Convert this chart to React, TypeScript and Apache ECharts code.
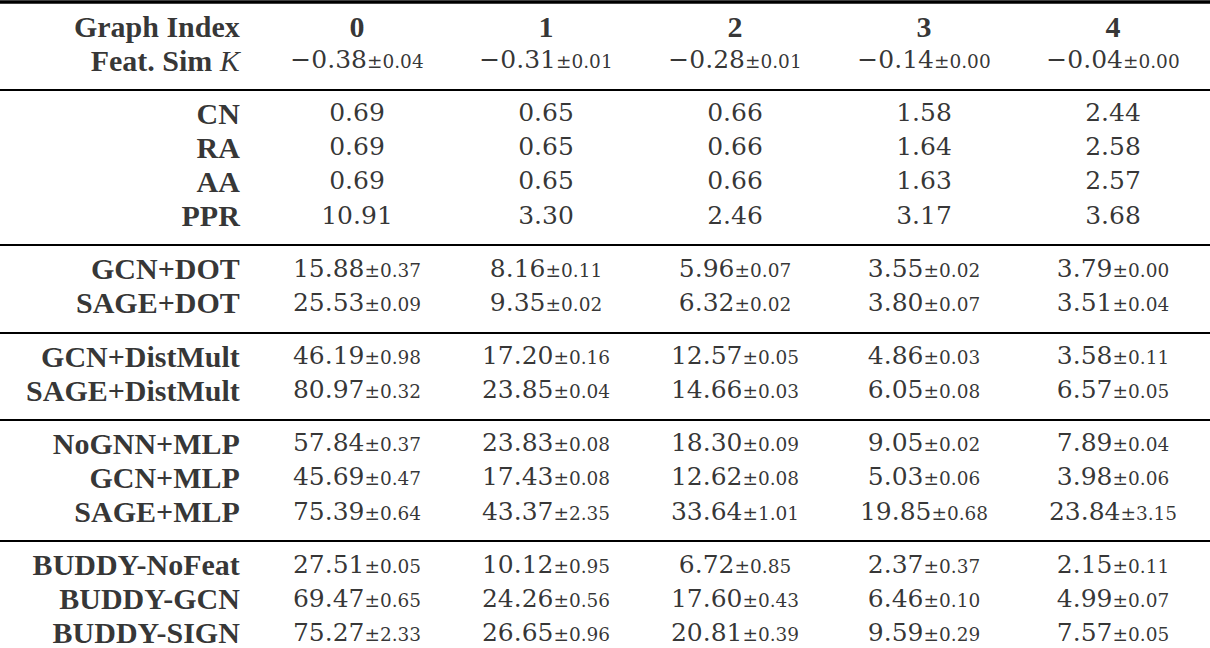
import { useEffect, useRef } from 'react'
import * as echarts from 'echarts'

// header
const graphIndex = ['0', '1', '2', '3', '4']
const featSimMean = [-0.38, -0.31, -0.28, -0.14, -0.04]
const featSimStd = [0.04, 0.01, 0.01, 0.0, 0.0]

// heuristics (no std)
const heuristicNames = ['CN', 'RA', 'AA', 'PPR']
const heuristicValues = [
  [0.69, 0.65, 0.66, 1.58, 2.44],
  [0.69, 0.65, 0.66, 1.64, 2.58],
  [0.69, 0.65, 0.66, 1.63, 2.57],
  [10.91, 3.3, 2.46, 3.17, 3.68],
]

const dotNames = ['GCN+DOT', 'SAGE+DOT']
const dotMean = [
  [15.88, 8.16, 5.96, 3.55, 3.79],
  [25.53, 9.35, 6.32, 3.8, 3.51],
]
const dotStd = [
  [0.37, 0.11, 0.07, 0.02, 0.0],
  [0.09, 0.02, 0.02, 0.07, 0.04],
]

const distMultNames = ['GCN+DistMult', 'SAGE+DistMult']
const distMultMean = [
  [46.19, 17.2, 12.57, 4.86, 3.58],
  [80.97, 23.85, 14.66, 6.05, 6.57],
]
const distMultStd = [
  [0.98, 0.16, 0.05, 0.03, 0.11],
  [0.32, 0.04, 0.03, 0.08, 0.05],
]

const mlpNames = ['NoGNN+MLP', 'GCN+MLP', 'SAGE+MLP']
const mlpMean = [
  [57.84, 23.83, 18.3, 9.05, 7.89],
  [45.69, 17.43, 12.62, 5.03, 3.98],
  [75.39, 43.37, 33.64, 19.85, 23.84],
]
const mlpStd = [
  [0.37, 0.08, 0.09, 0.02, 0.04],
  [0.47, 0.08, 0.08, 0.06, 0.06],
  [0.64, 2.35, 1.01, 0.68, 3.15],
]

const buddyNames = ['BUDDY-NoFeat', 'BUDDY-GCN', 'BUDDY-SIGN']
const buddyMean = [
  [27.51, 10.12, 6.72, 2.37, 2.15],
  [69.47, 24.26, 17.6, 6.46, 4.99],
  [75.27, 26.65, 20.81, 9.59, 7.57],
]
const buddyStd = [
  [0.05, 0.95, 0.85, 0.37, 0.11],
  [0.65, 0.56, 0.43, 0.1, 0.07],
  [2.33, 0.96, 0.39, 0.29, 0.05],
]

type Group = { names: string[]; mean: number[][]; std?: number[][] }

const groups: Group[] = [
  { names: heuristicNames, mean: heuristicValues },
  { names: dotNames, mean: dotMean, std: dotStd },
  { names: distMultNames, mean: distMultMean, std: distMultStd },
  { names: mlpNames, mean: mlpMean, std: mlpStd },
  { names: buddyNames, mean: buddyMean, std: buddyStd },
]

const SERIF = '"Liberation Serif", "Times New Roman", serif'
const NUM = '"DejaVu Serif", serif'
const LABEL = 30
const MAIN = 25
const SMALL = 18.5
const ROW = 34.1 // px per table row
const TOP = 30 // px from top to the first header row
const GROUP_GAP = 0.56 // extra rows of space around each rule
const RULE_OFFSET = 0.75
const LABEL_X = -0.62 // right edge of the name column, in column units

const fmt = (v: number) => (v < 0 ? '\u2212' + Math.abs(v).toFixed(2) : v.toFixed(2))
const pm = (m: number, s: number) => `{m|${fmt(m)}}{s|±${s.toFixed(2)}}`

function buildTable() {
  const cells: any[] = []
  const rules: number[] = [-0.82]
  const pos = (row: number, group: number) => row + group * GROUP_GAP

  cells.push({ value: [LABEL_X, pos(0, 0)], label: { formatter: '{b|Graph Index}', align: 'right' } })
  graphIndex.forEach((g, i) => cells.push({ value: [i, pos(0, 0)], label: { formatter: `{b|${g}}` } }))
  cells.push({ value: [LABEL_X, pos(1, 0)], label: { formatter: '{b|Feat. Sim }{k|K}', align: 'right' } })
  featSimMean.forEach((m, i) => cells.push({ value: [i, pos(1, 0)], label: { formatter: pm(m, featSimStd[i]) } }))

  let row = 2
  groups.forEach((g, gi) => {
    const group = gi + 1
    rules.push(pos(row - 1, group - 1) + RULE_OFFSET)
    g.names.forEach((name, r) => {
      const y = pos(row, group)
      cells.push({ value: [LABEL_X, y], label: { formatter: `{b|${name}}`, align: 'right' } })
      g.mean[r].forEach((m, i) => {
        const text = g.std ? pm(m, g.std[r][i]) : `{m|${fmt(m)}}`
        cells.push({ value: [i, y], label: { formatter: text } })
      })
      row++
    })
  })
  return { cells, rules }
}

export default function App() {
  const elRef = useRef<HTMLDivElement | null>(null)

  useEffect(() => {
    if (!elRef.current) return
    const chart = echarts.init(elRef.current, null, { renderer: 'svg' })
    const { cells, rules } = buildTable()

    chart.setOption({
      animation: false,
      grid: { left: 0, right: 0, top: 0, bottom: 0 },
      xAxis: { type: 'value', show: false, min: -357 / 189, max: (1210 - 357) / 189 },
      yAxis: { type: 'value', show: false, inverse: true, min: -TOP / ROW, max: (648 - TOP) / ROW },
      series: [
        {
          type: 'scatter',
          symbolSize: 1,
          itemStyle: { color: 'rgba(0,0,0,0)' },
          silent: true,
          data: cells,
          label: {
            show: true,
            position: 'inside',
            align: 'center',
            verticalAlign: 'middle',
            color: '#000',
            textBorderWidth: 0,
            fontFamily: SERIF,
            rich: {
              b: { fontFamily: SERIF, fontSize: LABEL, lineHeight: 22, fontWeight: 'bold', color: '#000', verticalAlign: 'bottom' },
              k: { fontFamily: SERIF, fontSize: LABEL, lineHeight: 22, fontStyle: 'italic', color: '#000', verticalAlign: 'bottom' },
              m: { fontFamily: NUM, fontSize: MAIN, lineHeight: 20, color: '#000', verticalAlign: 'bottom', padding: [0, 0, 2, 0] },
              s: { fontFamily: NUM, fontSize: SMALL, lineHeight: 15, color: '#000', verticalAlign: 'bottom', padding: [0, 0, 3, 0] },
            },
          },
          markLine: {
            silent: true,
            symbol: ['none', 'none'],
            label: { show: false },
            lineStyle: { color: '#000', width: 1.8, type: 'solid' },
            data: rules.map((y, i) => ({ yAxis: y, lineStyle: { width: i === 0 ? 3.5 : 1.8 } })),
          },
        },
      ],
    })

    return () => chart.dispose()
  }, [])

  return <div ref={elRef} style={{ position: 'fixed', left: 0, top: 0, width: 1210, height: 648, background: '#fff' }} />
}
